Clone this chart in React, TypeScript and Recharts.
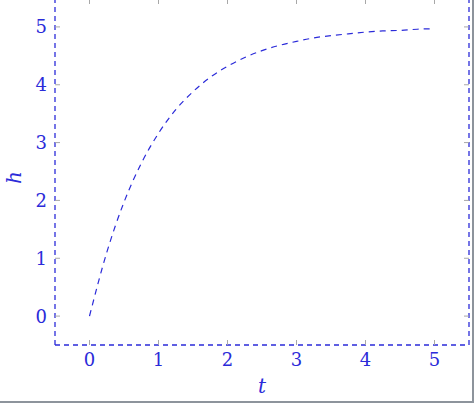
import React from "react";
import { LineChart, Line, XAxis, YAxis } from "recharts";

// values
const tValues = [0, 0.25, 0.5, 0.75, 1, 1.25, 1.5, 1.75, 2, 2.25, 2.5, 2.75, 3, 3.25, 3.5, 3.75, 4, 4.25, 4.5, 4.75, 5];
const hValues = [0, 1.1, 1.97, 2.64, 3.16, 3.57, 3.88, 4.13, 4.32, 4.47, 4.59, 4.68, 4.75, 4.81, 4.85, 4.88, 4.91, 4.93, 4.94, 4.96, 4.97];
const xTicks = [0, 1, 2, 3, 4, 5];
const yTicks = [0, 1, 2, 3, 4, 5];

const data = tValues.map((t, i) => ({ t, h: hValues[i] }));

const BLUE = "#2b2bd9";
const TICK_GRAY = "#a8a8a8";
const FONT = "DejaVu Serif";
const axisLine = { stroke: BLUE, strokeWidth: 1.3, strokeDasharray: "5 4" };

function LeftTick(props: any) {
  const { x, y, payload } = props;
  return (
    <g>
      <line x1={x} y1={y} x2={x + 5} y2={y} stroke={TICK_GRAY} strokeWidth={1} />
      <text x={x - 8} y={y + 6.5} textAnchor="end" fill={BLUE} fontFamily={FONT} fontSize={18}>
        {payload.value}
      </text>
    </g>
  );
}

function BottomTick(props: any) {
  const { x, y, payload } = props;
  return (
    <g>
      <line x1={x} y1={y} x2={x} y2={y - 5} stroke={TICK_GRAY} strokeWidth={1} />
      <text x={x} y={y + 21} textAnchor="middle" fill={BLUE} fontFamily={FONT} fontSize={18}>
        {payload.value}
      </text>
    </g>
  );
}

function RightTick(props: any) {
  const { x, y } = props;
  return <line x1={x} y1={y} x2={x - 5} y2={y} stroke={TICK_GRAY} strokeWidth={1} />;
}

function TopTick(props: any) {
  const { x, y } = props;
  return <line x1={x} y1={y} x2={x} y2={y + 6} stroke={TICK_GRAY} strokeWidth={1} />;
}

export default function App() {
  return (
    <div style={{ position: "absolute", left: 0, top: 0, width: 474, height: 403, overflow: "hidden", background: "#fff" }}>
      <div style={{ position: "absolute", left: 0, top: -20 }}>
        <LineChart width={474} height={423} data={data} margin={{ top: 17, right: 4, left: 0, bottom: 0 }}>
          <XAxis
            dataKey="t"
            type="number"
            domain={[-0.5, 5.5]}
            ticks={xTicks}
            allowDataOverflow
            height={58}
            tickSize={0}
            tickMargin={0}
            tickLine={false}
            axisLine={axisLine}
            tick={<BottomTick />}
            label={{ value: "t", position: "center", dy: 12, fill: BLUE, fontSize: 20, fontStyle: "italic", fontFamily: FONT }}
          />
          <XAxis
            xAxisId="top"
            orientation="top"
            dataKey="t"
            type="number"
            domain={[-0.5, 5.5]}
            ticks={xTicks}
            allowDataOverflow
            height={1}
            tickSize={0}
            tickMargin={0}
            tickLine={false}
            axisLine={axisLine}
            tick={<TopTick />}
          />
          <YAxis
            type="number"
            domain={[-0.5, 5.5]}
            ticks={yTicks}
            allowDataOverflow
            width={55}
            tickSize={0}
            tickMargin={0}
            tickLine={false}
            axisLine={axisLine}
            tick={<LeftTick />}
            label={{ value: "h", angle: -90, position: "center", dx: -14, dy: 6, fill: BLUE, fontSize: 20, fontStyle: "italic", fontFamily: FONT }}
          />
          <YAxis
            yAxisId="right"
            orientation="right"
            type="number"
            domain={[-0.5, 5.5]}
            ticks={yTicks}
            allowDataOverflow
            width={1}
            tickSize={0}
            tickMargin={0}
            tickLine={false}
            axisLine={axisLine}
            tick={<RightTick />}
          />
          <Line
            type="monotone"
            dataKey="h"
            stroke={BLUE}
            strokeWidth={1.2}
            strokeDasharray="6 5"
            dot={false}
            isAnimationActive={false}
          />
        </LineChart>
      </div>
      <div
        style={{
          position: "absolute",
          left: 0,
          top: 0,
          width: 474,
          height: 403,
          boxSizing: "border-box",
          borderRight: "2px solid #8d949c",
          borderBottom: "2px solid #8d949c",
          pointerEvents: "none",
        }}
      />
    </div>
  );
}
